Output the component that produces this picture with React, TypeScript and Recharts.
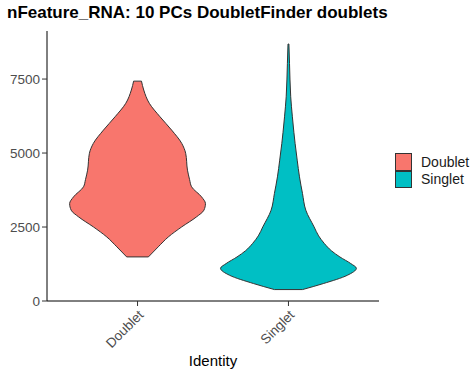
import React from "react";
import { ComposedChart, Area, XAxis, YAxis, Legend, ReferenceLine } from "recharts";

const identities = ["Doublet", "Singlet"];
const colors = ["#F8766D", "#00BFC4"];
const yTicks = [0, 2500, 5000, 7500];

// violin outline: nFeature value and half width (x units)
const doubletValues = [1490, 1830, 2165, 2505, 2840, 3070, 3290, 3520, 3860, 4100, 4420, 4990, 5325, 5775, 6225, 6680, 7130, 7430];
const doubletHalfWidths = [0.072, 0.137, 0.204, 0.293, 0.39, 0.44, 0.45, 0.424, 0.358, 0.345, 0.331, 0.319, 0.293, 0.226, 0.149, 0.078, 0.041, 0.026];

const singletValues = [386, 589, 869, 1106, 1265, 1488, 1700, 1942, 2200, 2504, 3069, 3633, 4196, 4759, 5325, 5700, 6224, 6901, 7500, 8031, 8684];
const singletHalfWidths = [0.093, 0.231, 0.39, 0.45, 0.413, 0.341, 0.284, 0.238, 0.2, 0.17, 0.115, 0.093, 0.073, 0.058, 0.044, 0.036, 0.026, 0.015, 0.01, 0.007, 0.003];

const FONT = '"Liberation Sans", Arial, sans-serif';

function violinRows(values: number[], halfWidths: number[], center: number) {
  return values.map((v, i) => ({
    value: v,
    range: [center - halfWidths[i], center + halfWidths[i]],
  }));
}

const doubletRows = violinRows(doubletValues, doubletHalfWidths, 1);
const singletRows = violinRows(singletValues, singletHalfWidths, 2);

// flat ends of the trimmed violins
function endSegments(rows: { value: number; range: number[] }[]) {
  return [rows[0], rows[rows.length - 1]].map((r) => [
    { x: r.range[0], y: r.value },
    { x: r.range[1], y: r.value },
  ]);
}

function AngledTick({ x, y, payload }: any) {
  return (
    <g transform={`translate(${x},${y + 1})`}>
      <text
        transform="rotate(-45)"
        textAnchor="end"
        dy="0.71em"
        fill="#4D4D4D"
        fontSize={13.5}
        fontFamily={FONT}
      >
        {identities[payload.value - 1]}
      </text>
    </g>
  );
}

function VlnLegend() {
  return (
    <div style={{ fontFamily: FONT, fontSize: 14, color: "#1a1a1a" }}>
      {identities.map((name, i) => (
        <div key={name} style={{ display: "flex", alignItems: "center", height: 17.5 }}>
          <div
            style={{
              width: 15,
              height: 15.5,
              background: colors[i],
              border: "1px solid #333",
              marginRight: 9,
            }}
          />
          <span>{name}</span>
        </div>
      ))}
    </div>
  );
}

export default function App() {
  return (
    <div style={{ position: "absolute", left: 0, top: 0, width: 474, height: 373, fontFamily: FONT }}>
      <div
        style={{
          position: "absolute",
          left: 7,
          top: 3,
          fontSize: 17,
          fontWeight: "bold",
          color: "#000",
          whiteSpace: "nowrap",
        }}
      >
        nFeature_RNA: 10 PCs DoubletFinder doublets
      </div>
      <ComposedChart
        width={474}
        height={373}
        layout="vertical"
        margin={{ top: 31, right: 15, bottom: 4, left: 7 }}
      >
        <XAxis
          type="number"
          dataKey="range"
          domain={[0.4, 2.6]}
          ticks={[1, 2]}
          allowDataOverflow
          height={68}
          tickSize={5}
          tickMargin={2}
          tick={<AngledTick />}
          axisLine={{ stroke: "#000", strokeWidth: 1 }}
          tickLine={{ stroke: "#333" }}
          label={{ value: "Identity", position: "insideBottom", offset: 3, fill: "#000", fontSize: 15, fontFamily: FONT }}
        />
        <YAxis
          type="number"
          dataKey="value"
          domain={[0, 9124]}
          reversed
          ticks={yTicks}
          allowDataOverflow
          width={40}
          tickSize={5}
          tickMargin={2}
          tick={{ fill: "#4D4D4D", fontSize: 13.5, fontFamily: FONT }}
          axisLine={{ stroke: "#000", strokeWidth: 1 }}
          tickLine={{ stroke: "#333" }}
        />
        <Legend
          layout="vertical"
          align="right"
          verticalAlign="middle"
          wrapperStyle={{ left: 395, top: 153, width: 80 }}
          content={() => <VlnLegend />}
        />
        <Area
          data={doubletRows}
          dataKey="range"
          name={identities[0]}
          type="monotone"
          fill={colors[0]}
          fillOpacity={1}
          stroke="#333"
          strokeWidth={1}
          isAnimationActive={false}
        />
        <Area
          data={singletRows}
          dataKey="range"
          name={identities[1]}
          type="monotone"
          fill={colors[1]}
          fillOpacity={1}
          stroke="#333"
          strokeWidth={1}
          isAnimationActive={false}
        />
        {[...endSegments(doubletRows), ...endSegments(singletRows)].map((seg, i) => (
          <ReferenceLine key={i} segment={seg} stroke="#333" strokeWidth={1} ifOverflow="visible" />
        ))}
      </ComposedChart>
    </div>
  );
}
